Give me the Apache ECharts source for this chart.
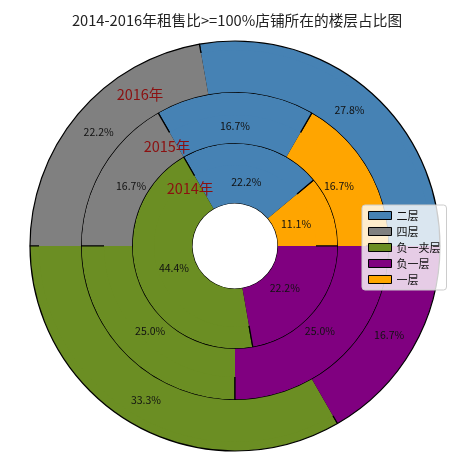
<!DOCTYPE html>
<html>
<head>
<meta charset="utf-8">
<script src="https://cdn.jsdelivr.net/npm/echarts@6/dist/echarts.min.js"></script>
<style>
    html, body { margin: 0; padding: 0; background: #fff; }
    #main { width: 474px; height: 474px; }
</style>
</head>
<body>
<div id="main"></div>
<script>
// floors in drawing order (counter-clockwise from 3 o'clock)
var floors = ['一层', '二层', '四层', '负一夹层', '负一层'];
var legendOrder = ['二层', '四层', '负一夹层', '负一层', '一层'];
var floorColors = ['#FFA500', '#4682B4', '#808080', '#6B8E23', '#800080'];
var years = ['2014年', '2015年', '2016年'];
// number of shops per floor, one list per year
var shops2014 = [1, 2, 0, 4, 2];
var shops2015 = [2, 2, 2, 3, 3];
var shops2016 = [0, 5, 4, 6, 3];

var FONT = '"Noto Sans CJK SC", "Noto Sans", sans-serif';
var CENTER = [235, 246];

function $each(arr, fn) {
    for (var i = 0; i < arr.length; i++) fn(arr[i], i);
}

function sum(values) {
    var s = 0;
    $each(values, function (v) { s += v; });
    return s;
}

function buildData(values) {
    var items = [];
    $each(values, function (v, i) {
        if (v > 0) {
            items.push({ name: floors[i], value: v, itemStyle: { color: floorColors[i] } });
        }
    });
    return items;
}

function ringSeries(values, radius) {
    return {
        type: 'pie',
        center: CENTER,
        radius: radius,
        startAngle: 0,
        clockwise: false,
        avoidLabelOverlap: false,
        label: { show: false },
        labelLine: { show: false },
        itemStyle: { borderColor: '#000', borderWidth: 1.2, borderJoin: 'bevel' },
        emphasis: { disabled: true },
        data: buildData(values)
    };
}

// invisible ring, only carries the percent labels at the right radius
function labelSeries(values, radius) {
    var total = sum(values);
    return {
        type: 'pie',
        center: CENTER,
        radius: radius,
        startAngle: 0,
        clockwise: false,
        silent: true,
        avoidLabelOverlap: false,
        itemStyle: { color: 'rgba(0,0,0,0)', borderWidth: 0 },
        label: {
            show: true,
            position: 'inside',
            color: '#111',
            fontSize: 10.5,
            fontFamily: FONT,
            formatter: function (p) {
                return (p.value / total * 100).toFixed(1) + '%';
            }
        },
        labelLine: { show: false },
        emphasis: { disabled: true },
        data: buildData(values)
    };
}

function yearText(text, x, y) {
    return {
        type: 'text',
        x: x,
        y: y,
        z: 100,
        style: {
            text: text,
            fill: '#8B1010',
            fontSize: 14.5,
            fontFamily: FONT,
            align: 'center',
            verticalAlign: 'middle'
        }
    };
}

var myChart = echarts.init(document.getElementById('main'));
var option = {
    animation: false,
    backgroundColor: '#fff',
    title: {
        text: '2014-2016年租售比>=100%店铺所在的楼层占比图',
        left: 'center',
        top: 8,
        textStyle: { fontSize: 14.7, fontWeight: 'normal', color: '#222', fontFamily: FONT }
    },
    legend: {
        data: legendOrder,
        orient: 'vertical',
        left: 362,
        top: 205,
        z: 50,
        padding: [5, 6, 5, 6],
        itemWidth: 23,
        itemHeight: 8,
        itemGap: 5,
        icon: 'rect',
        itemStyle: { borderColor: '#000', borderWidth: 1 },
        backgroundColor: 'rgba(255,255,255,0.8)',
        borderColor: '#cccccc',
        borderWidth: 1,
        borderRadius: 3,
        textStyle: { fontSize: 11, color: '#111', fontFamily: FONT }
    },
    graphic: [
        yearText(years[2], 140, 94),
        yearText(years[1], 167, 146),
        yearText(years[0], 190, 188)
    ],
    series: [
        ringSeries(shops2014, [43, 103]),
        ringSeries(shops2015, [103, 154]),
        ringSeries(shops2016, [154, 205]),
        labelSeries(shops2014, [43, 81]),
        labelSeries(shops2015, [103, 131]),
        labelSeries(shops2016, [154, 196])
    ]
};
myChart.setOption(option);
</script>
</body>
</html>
